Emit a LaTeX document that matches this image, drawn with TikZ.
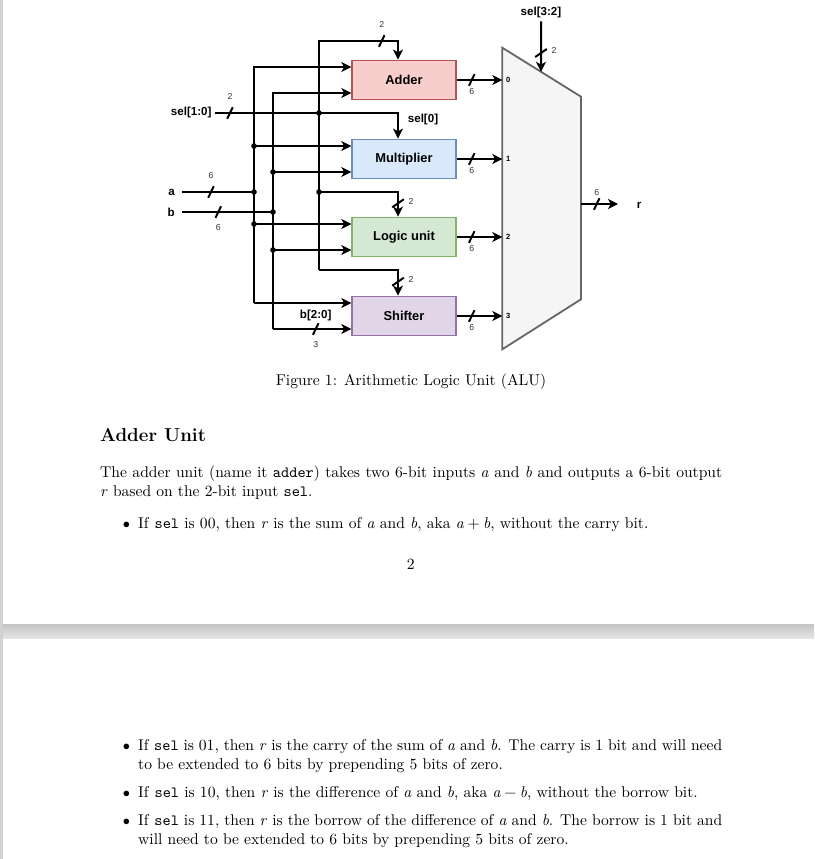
\documentclass[tikz,border=0pt]{standalone}
\usepackage{fontspec}
\setmainfont{lmroman10-regular.otf}[BoldFont=lmroman10-bold.otf,ItalicFont=lmroman10-italic.otf]
\setmonofont{lmmono10-regular.otf}
\newfontfamily\headfont{lmroman12-bold.otf}
\newfontfamily\drawiofont{Liberation Sans}
\usetikzlibrary{arrows.meta,calc}
\definecolor{adderfill}{HTML}{F8CECC}
\definecolor{adderline}{HTML}{B85450}
\definecolor{multfill}{HTML}{DAE8FC}
\definecolor{multline}{HTML}{6C8EBF}
\definecolor{logicfill}{HTML}{D5E8D4}
\definecolor{logicline}{HTML}{82B366}
\definecolor{shiftfill}{HTML}{E1D5E7}
\definecolor{shiftline}{HTML}{9673A6}
\definecolor{muxfill}{HTML}{F5F5F5}
\definecolor{muxline}{HTML}{666666}
\definecolor{viewergray}{HTML}{D2D2D2}
\definecolor{bandtop}{HTML}{C4C4C4}
\definecolor{bandbottom}{HTML}{E6E6E6}
\newcommand\bodytext{\fontsize{15.58}{18.7}\selectfont}
\newcommand\mv[1]{\textit{#1}}
\newcommand\mop[1]{\hspace{0.222em}#1\hspace{0.222em}}
\begin{document}
\begin{tikzpicture}[x=1pt,y=-1pt]
        % Styles
        \tikzstyle{wire}=[line width=2pt]
        \tikzstyle{sig}=[wire,-{Stealth[length=10pt,width=10pt,inset=2.8pt]}]
        \tikzstyle{unit box}=[draw,line width=1.4pt,minimum width=104pt,minimum height=39.5pt,font=\drawiofont\bfseries\fontsize{12.9}{15}\selectfont]
        \tikzstyle{sig label}=[inner sep=3pt,font=\drawiofont\bfseries\fontsize{11.6}{14}\selectfont]
        \tikzstyle{bus width}=[inner sep=0pt,text=black!80,font=\drawiofont\fontsize{8.7}{10}\selectfont]
        \tikzstyle{port}=[inner sep=0pt,anchor=west,font=\drawiofont\bfseries\fontsize{7.5}{9}\selectfont]
        \tikzstyle{junction}=[circle,fill,inner sep=0pt,minimum size=5.6pt]
        \tikzstyle{page text}=[inner sep=0pt,anchor=base west,font=\bodytext]
        %pages
        \useasboundingbox (0,0) rectangle (814,859);
        \fill[viewergray] (0,0) rectangle (814,859);
        \fill[white] (3,0) rectangle (814,624);
        \shade[top color=bandtop,bottom color=bandbottom] (3,624) rectangle (814,639);
        \fill[white] (3,639) rectangle (814,859);
        %units
        \node[unit box,fill=adderfill,draw=adderline] (adder) at (404,80) {Adder};
        \node[unit box,fill=multfill,draw=multline] (mult) at (404,159) {Multiplier};
        \node[unit box,fill=logicfill,draw=logicline] (logic) at (404,237) {Logic unit};
        \node[unit box,fill=shiftfill,draw=shiftline] (shift) at (404,316) {Shifter};
        %mux
        \coordinate (muxtl) at (502.3,47.7);
        \coordinate (muxtr) at (581,96.7);
        \coordinate (muxbr) at (581,299.3);
        \coordinate (muxbl) at (502.3,349.3);
        \draw[draw=muxline,fill=muxfill,line width=1.8pt] (muxtl) -- (muxtr) -- (muxbr) -- (muxbl) -- cycle;
        %inputs
        \node[sig label,anchor=east,inner xsep=7pt] (a) at (182,192) {a};
        \node[sig label,anchor=east,inner xsep=7pt] (b) at (182,212) {b};
        \node[sig label,anchor=east,inner xsep=3.3pt] (sel10) at (215,113) {sel[1:0]};
        \node[sig label] (sel32) at (541,12.7) {sel[3:2]};
        \node[sig label] (sel0) at (423,119.3) {sel[0]};
        \node[sig label] (b20) at (315.7,315.7) {b[2:0]};
        \node[sig label] (r) at (639,205) {r};
        \coordinate (abus) at (254,0);
        \coordinate (bbus) at (273,0);
        \coordinate (drop) at (398,0);
        \coordinate (seltop) at (319,41);
        \coordinate (selmid) at (319,192);
        \coordinate (selbot) at (319,270);
        \foreach \u in {adder,mult,logic,shift} {
            \coordinate (\u-a) at ($(\u.west)+(0,-13)$);
            \coordinate (\u-b) at ($(\u.west)+(0,13)$);
        }
        %a bus
        \draw[wire] (a) -- (a -| abus) node[junction]{};
        \draw[sig] (shift-a -| abus) |- (adder-a);
        \draw[sig] (shift-a -| abus) -- (shift-a);
        \draw[sig] (mult-a -| abus) node[junction]{} -- (mult-a);
        \draw[sig] (logic-a -| abus) node[junction]{} -- (logic-a);
        %b bus
        \draw[wire] (b) -- (b -| bbus) node[junction]{};
        \draw[sig] (shift-b -| bbus) |- (adder-b);
        \draw[sig] (shift-b -| bbus) -- (shift-b);
        \draw[sig] (mult-b -| bbus) node[junction]{} -- (mult-b);
        \draw[sig] (logic-b -| bbus) node[junction]{} -- (logic-b);
        %sel bus
        \draw[sig] (selbot) -- (seltop) -| (adder.north -| drop);
        \draw[sig] (selbot) -| (shift.north -| drop);
        \draw[sig] (sel10) -| (mult.north -| drop);
        \node[junction] at (sel10 -| seltop) {};
        \draw[sig] (selmid) node[junction]{} -| (logic.north -| drop);
        %outputs
        \foreach \u/\p in {adder/0,mult/1,logic/2,shift/3} {
            \draw[sig] (\u.east) -- (\u.east -| muxtl);
            \node[port] at ($(\u.east -| muxtl)+(3.5,0)$) {\p};
        }
        \coordinate (selin) at ($(muxtl)!0.492!(muxtr)$);
        \draw[sig] (sel32) -- (selin);
        \coordinate (muxout) at (581,204);
        \coordinate (rend) at (618,204);
        \draw[sig] (muxout) -- (rend);
        %bus widths
        \foreach \x/\y/\w/\dy in {381.7/41/2/-17,230/113/2/-16.3,211/192/6/-16.3,218.3/212/6/15.7,315.7/329/3/16,471.7/80/6/11.8,471.7/159/6/11.8,471.7/237/6/11.8,471.7/316/6/11.8,596.7/204/6/-11.3}
        {
            \draw[wire] (\x-2.8,\y+5.8) -- (\x+2.8,\y-5.8);
            \node[bus width] at (\x,\y+\dy) {\w};
        }
        \foreach \x/\y/\w in {541/53/2,398/203.3/2,398/281.7/2}
        {
            \draw[wire] (\x-5.8,\y+4) -- (\x+5.8,\y-4);
            \node[bus width] at (\x+13,\y-2.3) {\w};
        }
        %text
        \node[page text,anchor=base] (caption) at (411,385) {Figure 1: Arithmetic Logic Unit (ALU)};
        \node[page text,font=\headfont\fontsize{18.7}{22}\selectfont] (heading) at (100,441) {Adder Unit};
        \node[page text] (par1) at (100,477.3) {\makebox[622pt][s]{The adder unit (name it \texttt{adder}) takes two 6-bit inputs \mv{a} and \mv{b} and outputs a 6-bit output}};
        \node[page text] (par2) at (100,496) {\mv{r} based on the 2-bit input \texttt{sel}.};
        \foreach \y in {528,750,797.5,825}
            \node[page text,anchor=base east] at (130.2,\y) {$\bullet$};
        \node[page text] (item1) at (138,528) {If \texttt{sel} is 00, then \mv{r} is the sum of \mv{a} and \mv{b}, aka \mv{a}\mop{+}\mv{b}, without the carry bit.};
        \node[page text,anchor=base] (pageno) at (410.7,569) {2};
        \node[page text] (item2) at (138,750) {\makebox[584pt][s]{If \texttt{sel} is 01, then \mv{r} is the carry of the sum of \mv{a} and \mv{b}. The carry is 1 bit and will need}};
        \node[page text] (item2b) at (138,769.5) {to be extended to 6 bits by prepending 5 bits of zero.};
        \node[page text] (item3) at (138,797.5) {If \texttt{sel} is 10, then \mv{r} is the difference of \mv{a} and \mv{b}, aka \mv{a}\mop{−}\mv{b}, without the borrow bit.};
        \node[page text] (item4) at (138,825) {\makebox[584pt][s]{If \texttt{sel} is 11, then \mv{r} is the borrow of the difference of \mv{a} and \mv{b}. The borrow is 1 bit and}};
        \node[page text] (item4b) at (138,844) {will need to be extended to 6 bits by prepending 5 bits of zero.};
\end{tikzpicture}
\end{document}
